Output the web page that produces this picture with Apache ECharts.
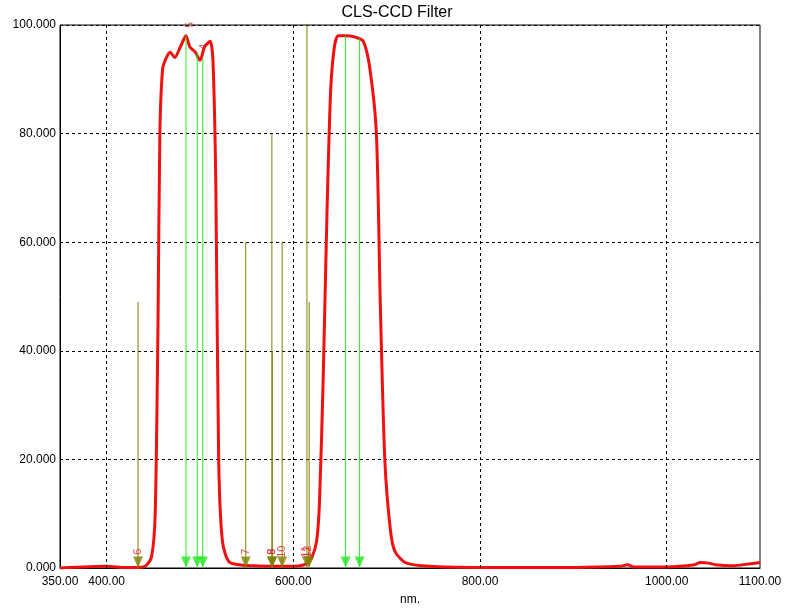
<!DOCTYPE html>
<html><head><meta charset="utf-8">
<script src="https://cdn.jsdelivr.net/npm/echarts@6/dist/echarts.min.js"></script>
<style>html,body{margin:0;background:#fff}#c{width:794px;height:611px}</style>
</head><body><div id="c"></div>
<script>
var curveNm = [350,400,420,430,441,448,452,455,457,460,464,468,473,479,485,489,495,500,505,511,514,517,520,524,532,560,600,610,615,620,625,628,632,636,640,644,648,655,666,675,682,689,693,698,704,709,720,746,800,900,950,958,965,1000,1030,1036,1045,1052,1070,1090,1100];
var curveT  = [0,0.3,0.1,0.1,0.3,2,10,45,80,92,94,95,94,96,98,96,95,93.5,96,97,93,70,20,5,1,0.4,0.3,0.5,1,2,5,12,35,65,88,96,98,98,97.8,97,92,80,50,20,7,3,1,0.3,0.1,0.1,0.3,0.6,0.2,0.2,0.6,1,0.9,0.6,0.4,0.8,1];
var olive = [433.6,549,577,577.5,588,614.6,617];
var oliveH = [49,60,80,40,60,100,49];
var green = [485,497,503,656,671];
var greenH = [98,95,94,98,97.5];
var bottomLabels = [[433.6,'6'],[549,'7'],[577,'8'],[577.5,'9'],[588,'10'],[614,'11'],[616,'12']];
var topLabels = [[490,100,'5'],[505,96,'4']];
var xTicks = [350,400,600,800,1000,1100];
var vGrid = [400,600,800,1000];

var chart = echarts.init(document.getElementById('c'));
var series = [];
function arrowSeries(xs, hs, color) {
  xs.forEach(function (x, i) {
    series.push({type:'line', data:[[x,0],[x,hs[i]]], symbol:'none', silent:true,
      lineStyle:{color:color, width:1}, z:3});
  });
  series.push({type:'scatter', data:xs.map(function (x) { return [x,1.1]; }),
    symbol:'triangle', symbolRotate:180, symbolSize:[10,11], itemStyle:{color:color}, z:4});
}
series.push({type:'line', data:curveNm.map(function (x, i) { return [x, curveT[i]]; }),
  symbol:'none', smooth:0.25, lineStyle:{color:'#f01010', width:3}, z:2,
  markLine:{silent:true, symbol:'none', label:{show:false},
    lineStyle:{color:'#000', type:[3,3], width:1},
    data:vGrid.map(function (v) { return {xAxis:v}; })}});
arrowSeries(olive, oliveH, '#808000');
arrowSeries(green, greenH, '#22e822');
series.push({type:'scatter', symbolSize:0, z:5,
  data:bottomLabels.map(function (d) { return [d[0],3]; }),
  label:{show:true, formatter:function (p) { return bottomLabels[p.dataIndex][1]; },
    rotate:90, color:'#e02020', fontSize:11, fontFamily:'Arial', position:'inside'}});
series.push({type:'scatter', symbolSize:0, z:5,
  data:topLabels.map(function (d) { return [d[0],d[1]]; }),
  label:{show:true, formatter:function (p) { return topLabels[p.dataIndex][2]; },
    rotate:90, color:'#e02020', fontSize:10, fontFamily:'Arial', position:'inside'}});

chart.setOption({
  animation:false,
  title:{text:'CLS-CCD Filter', left:'center', top:0,
    textStyle:{fontFamily:'Arial', fontSize:16, fontWeight:'normal', color:'#000'}},
  grid:{left:60, right:34, top:25, bottom:41, show:true, borderColor:'#000', borderWidth:1},
  xAxis:{type:'value', min:350, max:1100, name:'nm.', nameLocation:'middle', nameGap:26,
    nameTextStyle:{fontFamily:'Arial', fontSize:12, color:'#000'},
    axisLine:{lineStyle:{color:'#000'}}, axisTick:{show:false}, splitLine:{show:false},
    axisLabel:{customValues:xTicks, color:'#000', fontFamily:'Arial', fontSize:12,
      formatter:function (v) { return v.toFixed(2); }}},
  yAxis:{type:'value', min:0, max:100, interval:20,
    axisLine:{lineStyle:{color:'#000'}}, axisTick:{show:false},
    splitLine:{lineStyle:{color:'#000', type:[3,3]}},
    axisLabel:{color:'#000', fontFamily:'Arial', fontSize:12, margin:4,
      formatter:function (v) { return v.toFixed(3); }}},
  series:series
});
</script></body></html>
